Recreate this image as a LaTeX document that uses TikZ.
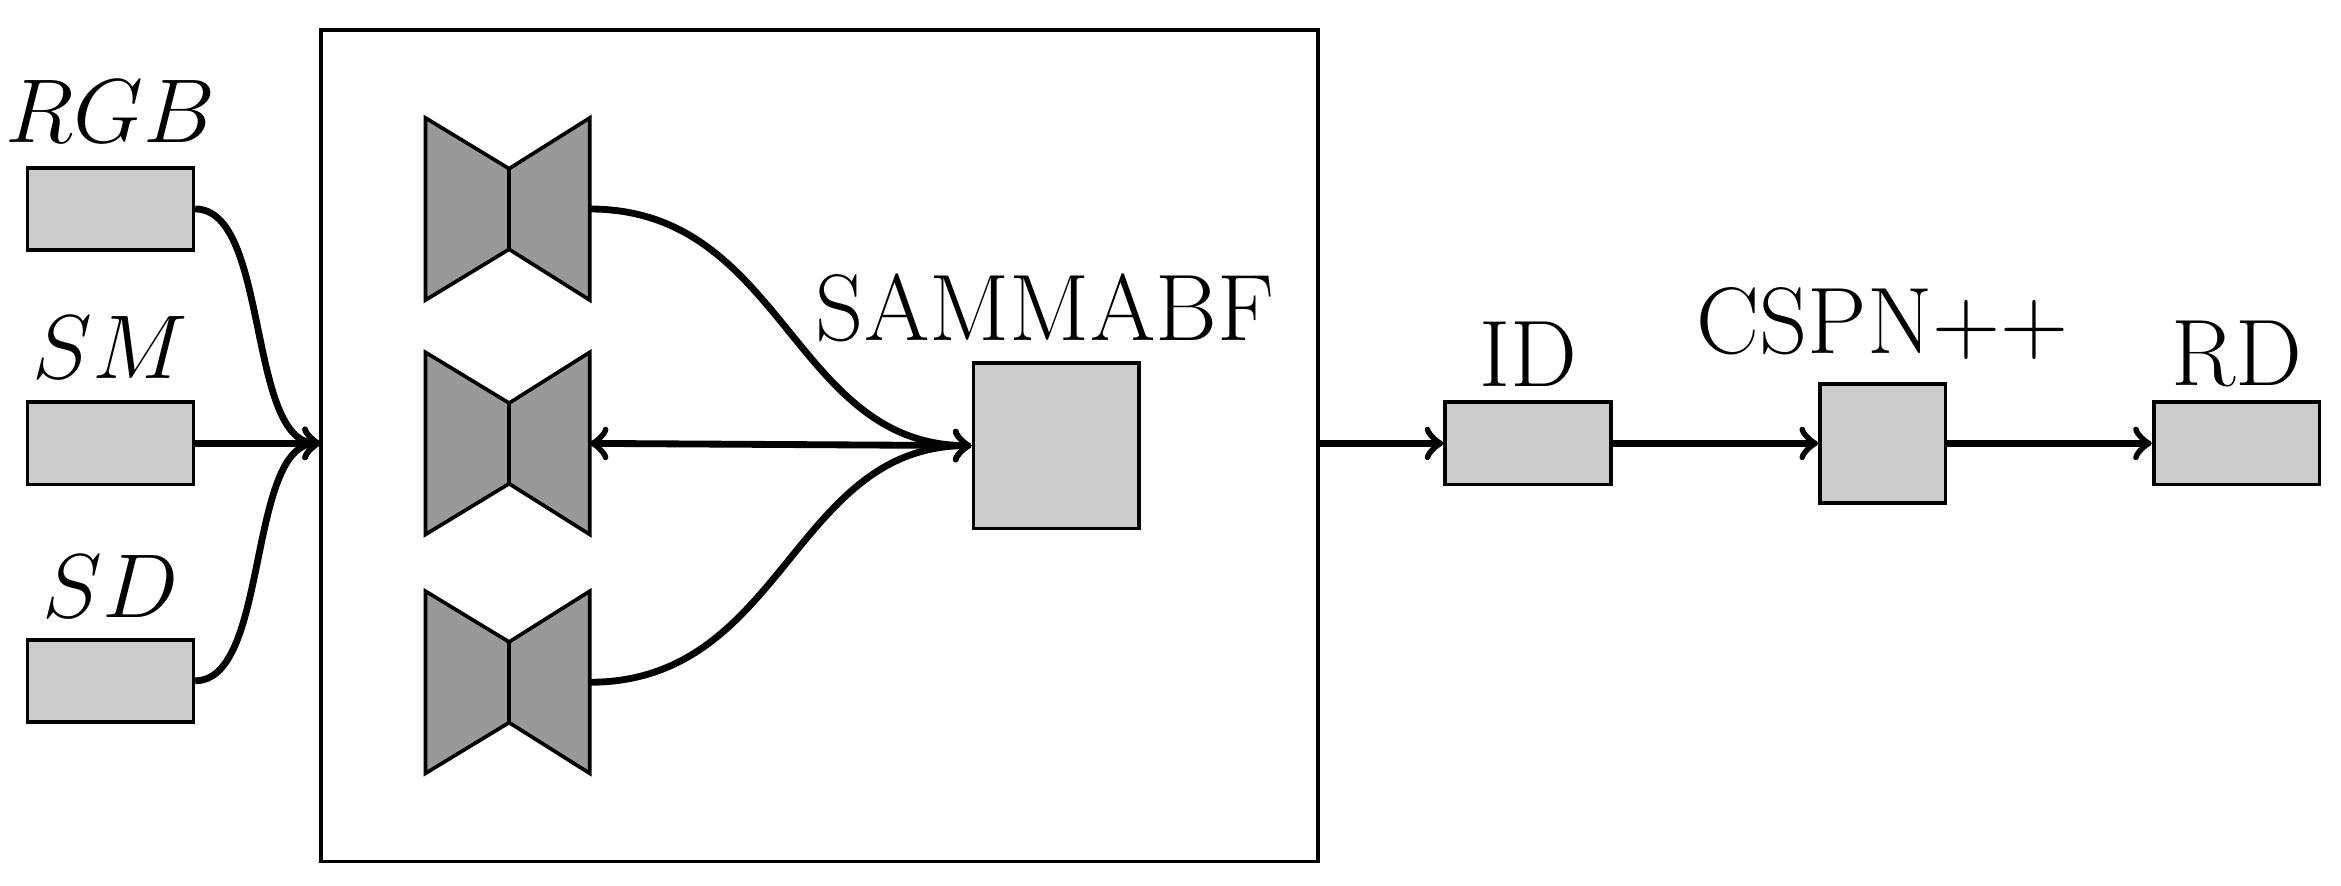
\documentclass[tikz,border=0pt]{standalone}
\begin{document}
\begin{tikzpicture}[x=1cm,y=1cm,
  box/.style={draw,line width=0.7pt,fill=black!20,inner sep=0,minimum width=1.11cm,minimum height=0.55cm},
  lbl/.style={font=\fontsize{18}{20}\selectfont},
  enc/.style={draw,line width=0.7pt,fill=black!40},
  con/.style={line width=1.3pt,->},
]
\useasboundingbox (0,0) rectangle (15.68,5.93);
% inputs
\node[box] (rgb) at (0.74,4.53) {};
\node[box] (sm) at (0.74,2.96) {};
\node[box] (sd) at (0.74,1.37) {};
\node[lbl] (lrgb) at (0.74,5.18) {$RGB$};
\node[lbl] (lsm) at (0.74,3.60) {$SM$};
\node[lbl] (lsd) at (0.74,2.00) {$SD$};
% big box
\node[draw,line width=0.7pt,minimum width=6.68cm,minimum height=5.57cm,inner sep=0] (big) at (5.49,2.945) {};
\coordinate (m) at (2.15,2.96);
% encoders
\foreach \n/\c in {e1/4.53,e2/2.96,e3/1.36}{
  \filldraw[enc] (2.85,\c+0.61) -- (3.41,\c+0.27) -- (3.95,\c+0.61) -- (3.95,\c-0.61) -- (3.41,\c-0.27) -- (2.85,\c-0.61) -- cycle;
  \draw[line width=0.7pt] (3.41,\c+0.27) -- (3.41,\c-0.27);
  \coordinate (\n) at (3.95,\c);
}
\node[box,minimum width=1.11cm,minimum height=1.11cm] (sam) at (7.075,2.945) {};
\node[lbl] (lsam) at (7.0,3.87) {SAMMABF};
% outputs
\node[box] (id) at (10.235,2.96) {};
\node[box,minimum width=0.84cm,minimum height=0.8cm] (cspn) at (12.61,2.96) {};
\node[box] (rd) at (14.98,2.96) {};
\node[lbl] (lid) at (10.235,3.56) {ID};
\node[lbl] (lcspn) at (12.61,3.76) {CSPN++};
\node[lbl] (lrd) at (14.98,3.56) {RD};
% connectors
\draw[con] (rgb.east) .. controls +(0.5,0) and +(-0.5,0) .. (m);
\draw[con] (sm.east) -- (m);
\draw[con] (sd.east) .. controls +(0.5,0) and +(-0.5,0) .. (m);
\draw[con] (e1) .. controls +(1.3,0) and +(-1.2,0) .. (sam.west);
\draw[con] (e3) .. controls +(1.3,0) and +(-1.2,0) .. (sam.west);
\draw[con,<->] (e2) -- (sam.west);
\draw[con] (big.east |- id) -- (id.west);
\draw[con] (id.east) -- (cspn.west);
\draw[con] (cspn.east) -- (rd.west);
\end{tikzpicture}
\end{document}
